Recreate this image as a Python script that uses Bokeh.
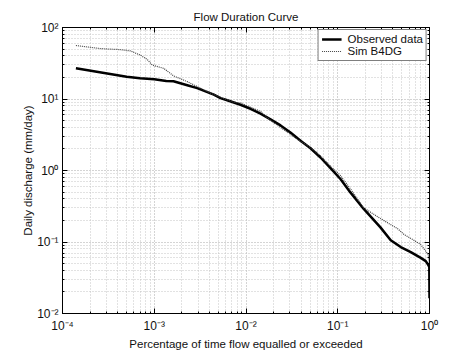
from bokeh.plotting import figure
from bokeh.models import LogAxis, FixedTicker, CustomJSTickFormatter, Legend, LegendItem, ColumnDataSource
from bokeh.embed import file_html
from bokeh.resources import INLINE

# Observed flow duration curve (fraction of time exceeded, mm/day)
obs_x = [1.40e-4, 3.07e-4, 5.0e-4, 7.0e-4, 1.0e-3, 1.35e-3, 1.62e-3, 2.29e-3, 2.94e-3,
         4.46e-3, 5.27e-3, 6.24e-3, 8.71e-3, 1.12e-2, 1.44e-2, 1.85e-2, 2.38e-2, 3.05e-2,
         3.93e-2, 5.05e-2, 6.49e-2, 8.34e-2, 0.107, 0.138, 0.192, 0.292, 0.378, 0.486,
         0.625, 0.804, 0.910, 0.968, 0.995, 1.0]
obs_y = [27, 22.8, 20.5, 19.5, 18.9, 17.9, 17.7, 15.6, 14.2,
         11.5, 10.3, 9.6, 8.3, 7.3, 6.25, 5.2, 4.27, 3.4,
         2.6, 2.05, 1.52, 1.08, 0.76, 0.49, 0.29, 0.16, 0.106, 0.085,
         0.072, 0.060, 0.054, 0.048, 0.045, 0.0163]

# Simulated (B4DG)
sim_x = [1.40e-4, 2.59e-4, 4.29e-4, 5.51e-4, 7.08e-4, 8.38e-4, 9.51e-4, 1.27e-3, 1.63e-3,
         2.29e-3, 2.94e-3, 4.46e-3, 5.27e-3, 7.36e-3, 8.71e-3, 1.44e-2, 1.85e-2, 2.38e-2,
         3.05e-2, 3.93e-2, 5.05e-2, 6.49e-2, 8.34e-2, 0.107, 0.138, 0.192, 0.292, 0.445,
         0.530, 0.798, 0.968, 1.0]
sim_y = [56, 50.7, 49, 47, 41, 35.7, 29.8, 26.8, 21,
         17.5, 14.9, 11.5, 10.6, 9.0, 8.8, 6.7, 5.0, 4.0,
         3.2, 2.55, 2.1, 1.6, 1.15, 0.85, 0.55, 0.30, 0.213, 0.155,
         0.127, 0.093, 0.067, 0.049]

x_ticks = [1e-4, 1e-3, 1e-2, 1e-1, 1e0]
y_ticks = [1e-2, 1e-1, 1e0, 1e1, 1e2]

title_text = "Flow Duration Curve"
x_label = "Percentage of time flow equalled or exceeded"
y_label = "Daily discharge (mm/day)"
obs_name = "Observed data"
sim_name = "Sim B4DG"

FONT = "Liberation Sans"
TXT = "#111111"

def minors(ticks):
    out = []
    for t in ticks[:-1]:
        for m in range(2, 10):
            out.append(t * m)
    return out

p = figure(width=466, height=352, x_axis_type="log", y_axis_type="log",
           x_range=(1e-4, 1e0), y_range=(1e-2, 1e2),
           output_backend="svg", toolbar_location=None,
           min_border_left=62, min_border_right=37, min_border_top=27, min_border_bottom=36)

p.title.text = title_text
p.title.align = "center"
p.title.text_font = FONT
p.title.text_font_size = "11.5px"
p.title.text_font_style = "normal"
p.title.text_color = TXT
p.title.standoff = 9

fmt = CustomJSTickFormatter(code="""
const sup = {'-':'\\u207b','0':'\\u2070','1':'\\u00b9','2':'\\u00b2','3':'\\u00b3','4':'\\u2074','5':'\\u2075','6':'\\u2076','7':'\\u2077','8':'\\u2078','9':'\\u2079'};
const e = String(Math.round(Math.log(tick) / Math.LN10));
let s = '';
for (let i = 0; i < e.length; i++) { s += sup[e[i]]; }
return '10' + s;
""")

xt = FixedTicker(ticks=x_ticks, minor_ticks=minors(x_ticks))
yt = FixedTicker(ticks=y_ticks, minor_ticks=minors(y_ticks))

for ax, t in ((p.xaxis[0], xt), (p.yaxis[0], yt)):
    ax.ticker = t
    ax.formatter = fmt
    ax.major_label_text_font = FONT
    ax.major_label_text_font_size = "12px"
    ax.major_label_text_color = TXT
    ax.axis_label_text_font = FONT
    ax.axis_label_text_font_size = "11.5px"
    ax.axis_label_text_font_style = "normal"
    ax.axis_label_text_color = TXT
    ax.major_tick_in = 5
    ax.major_tick_out = 0
    ax.minor_tick_in = 2
    ax.minor_tick_out = 0
    ax.axis_line_color = "black"
    ax.major_tick_line_color = "black"
    ax.minor_tick_line_color = "black"

p.xaxis.axis_label = x_label
p.yaxis.axis_label = y_label
p.xaxis.major_label_standoff = 5
p.xaxis.axis_label_standoff = 2
p.yaxis.major_label_standoff = 4
p.yaxis.axis_label_standoff = 0

# mirrored tick marks on top and right (box)
top = LogAxis(ticker=xt, major_label_text_font_size="1px", major_label_text_alpha=0,
              major_tick_in=5, major_tick_out=0, minor_tick_in=2, minor_tick_out=0,
              major_label_standoff=0)
right = LogAxis(ticker=yt, major_label_text_font_size="1px", major_label_text_alpha=0,
                major_tick_in=5, major_tick_out=0, minor_tick_in=2, minor_tick_out=0,
                major_label_standoff=0)
p.add_layout(top, "above")
p.add_layout(right, "right")

for g, t in ((p.xgrid[0], xt), (p.ygrid[0], yt)):
    g.ticker = t
    g.grid_line_color = "#a8a8a8"
    g.grid_line_dash = "1 2"
    g.grid_line_width = 1
    g.minor_grid_line_color = "#c4c4c4"
    g.minor_grid_line_dash = "1 2"
    g.minor_grid_line_width = 1

p.outline_line_color = "black"
p.outline_line_width = 1
p.background_fill_color = "white"
p.border_fill_color = "white"

obs_src = ColumnDataSource(dict(x=obs_x, y=obs_y))
sim_src = ColumnDataSource(dict(x=sim_x, y=sim_y))
r_obs = p.line("x", "y", source=obs_src, line_color="black", line_width=2.5)
r_sim = p.line("x", "y", source=sim_src, line_color="#444444", line_width=1.2, line_dash="1 1")

legend = Legend(items=[LegendItem(label=obs_name, renderers=[r_obs]),
                       LegendItem(label=sim_name, renderers=[r_sim])],
                location="top_right")
legend.label_text_font = FONT
legend.label_text_font_size = "11.5px"
legend.label_text_color = TXT
legend.border_line_color = "black"
legend.border_line_width = 1
legend.background_fill_alpha = 1
legend.margin = 2
legend.padding = 3
legend.spacing = 0
legend.glyph_width = 20
legend.glyph_height = 12
legend.label_height = 12
legend.label_standoff = 6
p.add_layout(legend, "center")

open("out.html", "w").write(file_html(p, INLINE))
